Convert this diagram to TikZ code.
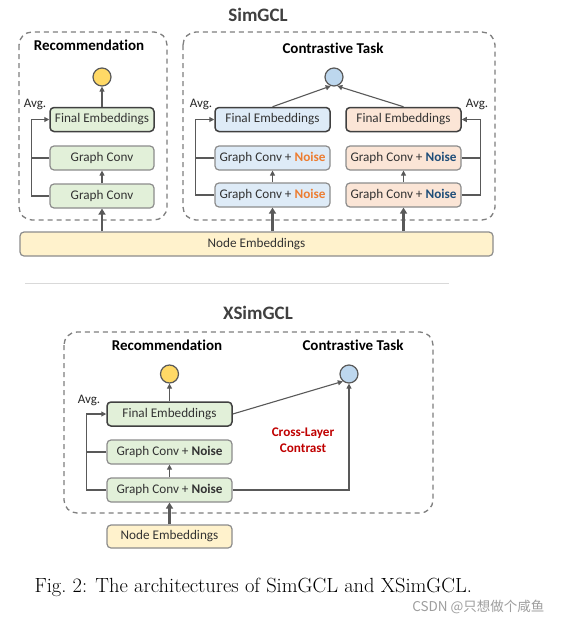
\documentclass[tikz,border=0pt]{standalone}
\usepackage{fontspec}
\newfontfamily\calfont[RawFeature={-liga;-dlig;-clig}]{Carlito}
\newfontfamily\cjk{Noto Sans CJK SC}
\usetikzlibrary{arrows.meta}
\definecolor{lnc}{HTML}{595959}
\definecolor{bdc}{HTML}{8C8C8C}
\definecolor{dkb}{HTML}{404040}
\definecolor{grf}{HTML}{E2F0D9}
\definecolor{blf}{HTML}{DEEBF7}
\definecolor{pcf}{HTML}{FBE5D6}
\definecolor{ylf}{HTML}{FFF2CC}
\definecolor{ylc}{HTML}{FFD966}
\definecolor{blc}{HTML}{BDD7EE}
\definecolor{orn}{HTML}{ED7D31}
\definecolor{dbn}{HTML}{1F4E79}
\definecolor{rdc}{HTML}{C00000}
\definecolor{dsh}{HTML}{7F7F7F}
\tikzset{
  every node/.style={font=\calfont\fontsize{13.2}{15}\selectfont, text=black!80},
  box/.style={draw=bdc, line width=1.2pt, rounded corners=4pt, inner sep=0pt, minimum height=24pt},
  finalbox/.style={box, draw=dkb, line width=1.5pt},
  dashbox/.style={draw=dsh, line width=1.3pt, dash pattern=on 5pt off 4pt, rounded corners=13pt},
  circ/.style={circle, draw=lnc, line width=1.2pt, minimum size=18pt, inner sep=0pt},
  ln/.style={draw=lnc, line width=1.1pt},
  arr/.style={ln, -{Triangle[length=5pt,width=5pt]}},
  thk/.style={draw=lnc, line width=2.2pt, -{Triangle[length=6pt,width=7pt]}},
  ttl/.style={font=\calfont\bfseries\fontsize{15}{17}\selectfont, text=black},
  big/.style={font=\calfont\bfseries\fontsize{19}{21}\selectfont, text=black!75},
  avg/.style={font=\calfont\fontsize{13}{15}\selectfont, text=black!85}
}
\begin{document}
\begin{tikzpicture}[x=1pt,y=-1pt]
\useasboundingbox[fill=white] (0,0) rectangle (564,629);
% ---------------- SimGCL ----------------
\node[big] (t1) at (258,15) {SimGCL};
\draw[dashbox] (19,32) rectangle (167,220);
\draw[dashbox] (183,32) rectangle (495,220);
\node[ttl] (rec1) at (89,45) {Recommendation};
\node[ttl] (con1) at (333,48) {Contrastive Task};
\node[circ, fill=ylc] (c1) at (102,77) {};
\node[circ, fill=blc] (c2) at (334,77) {};
\node[finalbox, fill=grf, minimum width=104pt] (fe1) at (102,119.5) {Final Embeddings};
\node[box, fill=grf, minimum width=104pt] (g1a) at (102,158) {Graph Conv};
\node[box, fill=grf, minimum width=104pt] (g1b) at (102,196) {Graph Conv};
\node[finalbox, fill=blf, minimum width=115pt] (fe2) at (272.5,119.5) {Final Embeddings};
\node[box, fill=blf, minimum width=115pt] (g2a) at (272.5,158) {Graph Conv + \textbf{\color{orn}Noise}};
\node[box, fill=blf, minimum width=115pt] (g2b) at (272.5,195) {Graph Conv + \textbf{\color{orn}Noise}};
\node[finalbox, fill=pcf, minimum width=115pt] (fe3) at (403.5,119.5) {Final Embeddings};
\node[box, fill=pcf, minimum width=115pt] (g3a) at (403.5,158) {Graph Conv + \textbf{\color{dbn}Noise}};
\node[box, fill=pcf, minimum width=115pt] (g3b) at (403.5,195) {Graph Conv + \textbf{\color{dbn}Noise}};
\node[box, fill=ylf, minimum width=473pt] (ne1) at (256.5,244) {Node Embeddings};
\node[avg] (a1) at (35,104) {Avg.};
\node[avg] (a2) at (201,104) {Avg.};
\node[avg] (a3) at (477,104) {Avg.};
% connectors
\draw[arr] (fe1.north) -- (c1.south);
\draw[arr] (g1b.north) -- (g1a.south);
\draw[ln] (g1a.west) -- ++(-18,0);
\draw[arr] (g1b.west) -- ++(-18,0) |- (fe1.west);
\draw[arr] (fe2.north) -- (c2.250);
\draw[arr] (fe3.north) -- (c2.290);
\draw[arr] (g2b.north) -- (g2a.south);
\draw[arr] (g3b.north) -- (g3a.south);
\draw[ln] (g2a.west) -- ++(-19,0);
\draw[arr] (g2b.west) -- ++(-19,0) |- (fe2.west);
\draw[ln] (g3a.east) -- ++(19,0);
\draw[arr] (g3b.east) -- ++(19,0) |- (fe3.east);
\draw[thk] (ne1.north -| g1b.south) -- (g1b.south);
\draw[thk] (ne1.north -| g2b.south) -- (g2b.south);
\draw[thk] (ne1.north -| g3b.south) -- (g3b.south);
% separator
\draw[draw=black!15, line width=1pt] (25,283) -- (449,283);
% ---------------- XSimGCL ----------------
\node[big] (t2) at (258,313) {XSimGCL};
\draw[dashbox] (64,332) rectangle (433,513);
\node[ttl] (rec2) at (167,345) {Recommendation};
\node[ttl] (con2) at (353,345) {Contrastive Task};
\node[circ, fill=ylc] (c3) at (169.5,374) {};
\node[circ, fill=blc] (c4) at (349,374) {};
\node[finalbox, fill=grf, minimum width=125pt] (fe4) at (169.5,414) {Final Embeddings};
\node[box, fill=grf, minimum width=125pt] (g4a) at (169.5,452) {Graph Conv + \textbf{Noise}};
\node[box, fill=grf, minimum width=125pt] (g4b) at (169.5,490) {Graph Conv + \textbf{Noise}};
\node[box, fill=ylf, minimum width=125pt, minimum height=23pt] (ne2) at (169.5,536.5) {Node Embeddings};
\node[avg] (a4) at (89,400) {Avg.};
\node[font=\calfont\bfseries\fontsize{13.2}{16}\selectfont, text=rdc, align=center] (cl) at (303,440) {Cross-Layer\\Contrast};
\draw[arr] (fe4.north) -- (c3.south);
\draw[arr] (g4b.north) -- (g4a.south);
\draw[ln] (g4a.west) -- ++(-20,0);
\draw[arr] (g4b.west) -- ++(-20,0) |- (fe4.west);
\draw[arr] (fe4.east) -- (c4.230);
\draw[arr] (g4b.east) -| (c4.south);
\draw[thk] (ne2.north) -- (g4b.south);
% caption
\node[font=\rmfamily\fontsize{20.5}{24}\selectfont, text=black, anchor=west] (cap) at (31,587) {Fig.\ 2: The architectures of SimGCL and XSimGCL.};
\node[font=\cjk\fontsize{13.5}{16}\selectfont, text=black!38, anchor=east] (wm) at (548,607) {CSDN @只想做个咸鱼};
\end{tikzpicture}
\end{document}
